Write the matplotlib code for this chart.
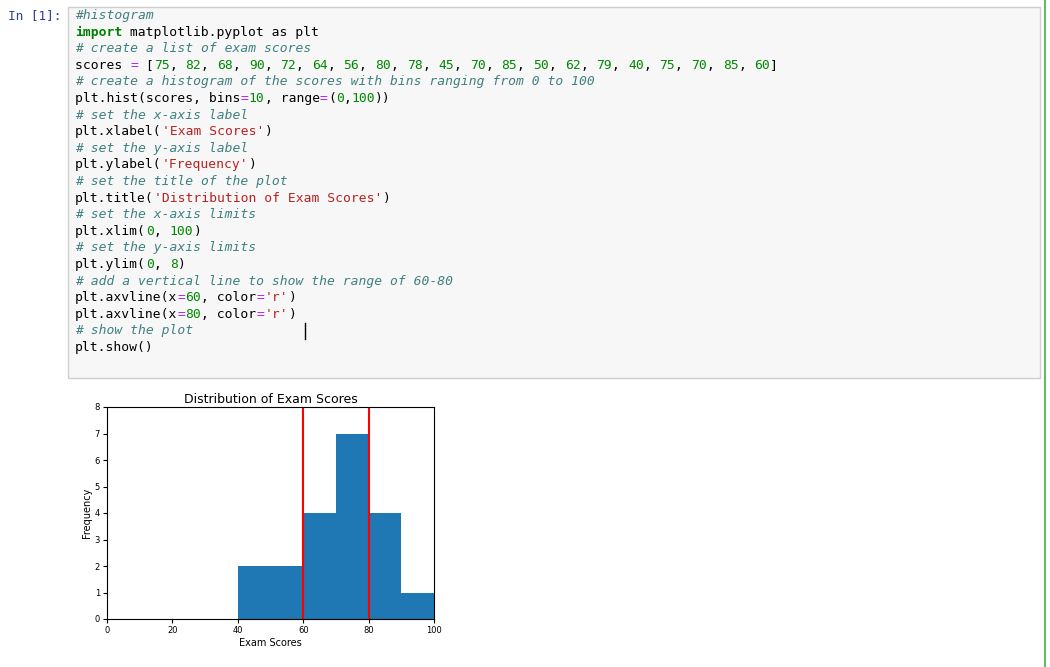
import re
import matplotlib
matplotlib.use("Agg")
import matplotlib.pyplot as plt
from matplotlib.patches import Rectangle

scores = [75, 82, 68, 90, 72, 64, 56, 80, 78, 45, 70, 85, 50, 62, 79, 40, 75, 70, 85, 60]
bins = 10
hist_range = (0, 100)
vlines = [60, 80]

code_lines = [
    "#histogram",
    "import matplotlib.pyplot as plt",
    "# create a list of exam scores",
    "scores = [75, 82, 68, 90, 72, 64, 56, 80, 78, 45, 70, 85, 50, 62, 79, 40, 75, 70, 85, 60]",
    "# create a histogram of the scores with bins ranging from 0 to 100",
    "plt.hist(scores, bins=10, range=(0,100))",
    "# set the x-axis label",
    "plt.xlabel('Exam Scores')",
    "# set the y-axis label",
    "plt.ylabel('Frequency')",
    "# set the title of the plot",
    "plt.title('Distribution of Exam Scores')",
    "# set the x-axis limits",
    "plt.xlim(0, 100)",
    "# set the y-axis limits",
    "plt.ylim(0, 8)",
    "# add a vertical line to show the range of 60-80",
    "plt.axvline(x=60, color='r')",
    "plt.axvline(x=80, color='r')",
    "# show the plot",
    "plt.show()",
]

W, H = 1050, 667
fig = plt.figure(figsize=(W / 100, H / 100), dpi=100)
fig.patch.set_facecolor("white")
bg = fig.add_axes([0, 0, 1, 1])
bg.set_xlim(0, W)
bg.set_ylim(H, 0)
bg.axis("off")

# prompt
bg.text(8, 16, "In [1]:", family="DejaVu Sans Mono", fontsize=9.2, color="#303F9F", va="center")
# code cell box
bg.add_patch(Rectangle((68, 7), 972, 371, facecolor="#f7f7f7", edgecolor="#cfcfcf", lw=1))
# green border at right
bg.plot([1045, 1045], [0, H], color="#42A5F5" if False else "#66BB6A", lw=1.5)

tok = re.compile(r"(#.*$)|('[^']*')|(\b\d+\b)|(\bimport\b|\bas\b)|(=)|([^#'\d=]+|.)")
cw = 7.9
for i, line in enumerate(code_lines):
    y = 15.5 + i * 16.6
    col = 0
    for m in tok.finditer(line):
        s = m.group(0)
        kw = dict(family="DejaVu Sans Mono", fontsize=9.4, va="center", color="black")
        if m.group(1):
            kw.update(color="#408080", style="italic")
        elif m.group(2):
            kw.update(color="#BA2121")
        elif m.group(3):
            kw.update(color="#008800")
        elif m.group(4):
            kw.update(color="#008000", weight="bold")
        elif m.group(5):
            kw.update(color="#AA22FF")
        bg.text(75 + col * cw, y, s, **kw)
        col += len(s)
# cursor
bg.plot([75 + 29 * cw + 1, 75 + 29 * cw + 1], [y - 8 - 16.6, y + 8 - 16.6], color="black", lw=1)

ax = fig.add_axes([107 / W, 48 / H, 327 / W, 212 / H])
ax.hist(scores, bins=bins, range=hist_range, color="#1f77b4")
ax.set_xlabel("Exam Scores", fontsize=7, labelpad=2)
ax.set_ylabel("Frequency", fontsize=7, labelpad=2)
ax.set_title("Distribution of Exam Scores", fontsize=9, pad=3)
ax.set_xlim(0, 100)
ax.set_ylim(0, 8)
for v in vlines:
    ax.axvline(x=v, color="r")
ax.tick_params(labelsize=6, length=3, pad=2)
for s in ax.spines.values():
    s.set_linewidth(0.8)

fig.savefig("out.png", dpi=100)
